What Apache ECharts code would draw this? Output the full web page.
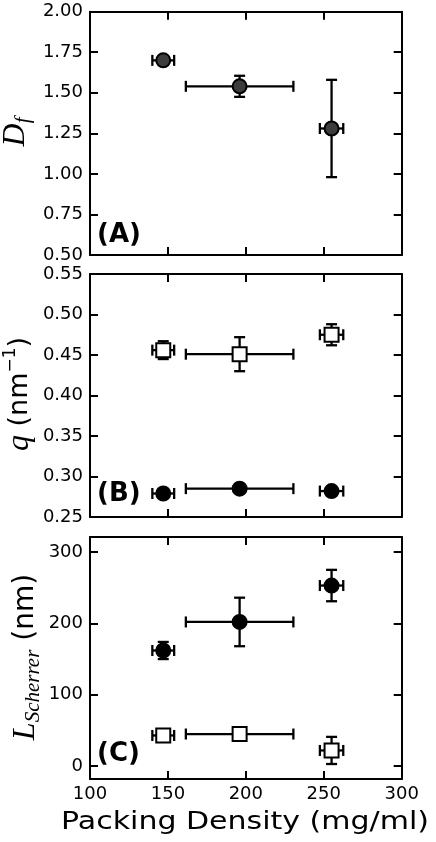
<!DOCTYPE html>
<html>
<head>
<meta charset="utf-8">
<script src="https://cdn.jsdelivr.net/npm/echarts@6/dist/echarts.min.js"></script>
<style>
  html, body { margin: 0; padding: 0; background: #fff; }
  #chart { width: 436px; height: 842px; }
</style>
</head>
<body>
<div id="chart"></div>
<script>
  // packing density (mg/ml), shared by all three panels
  var density = [147, 196, 255];
  var densityErr = [7, 34.5, 7.5];

  // (A) fractal dimension
  var fractalDim = [1.70, 1.54, 1.28];
  var fractalDimErr = [0.02, 0.065, 0.30];

  // (B) peak position q
  var qCircle = [0.279, 0.285, 0.282];
  var qCircleErr = [0, 0, 0];
  var qSquare = [0.456, 0.451, 0.475];
  var qSquareErr = [0.011, 0.021, 0.013];

  // (C) Scherrer length
  var lCircle = [162, 202, 253];
  var lCircleErr = [12, 34, 22];
  var lSquare = [43, 45, 22];
  var lSquareErr = [5, 3, 19];

  var xTicks = [100, 150, 200, 250, 300];
  var lTicks = [0, 100, 200, 300];

  var FONT = 'DejaVu Sans';
  var grids = [
    { left: 90, right: 34.3, top: 11.7, height: 243.3 },
    { left: 90, right: 34.3, top: 274, height: 243 },
    { left: 90, right: 34.3, top: 537, height: 242 }
  ];

  function xAxes(g) {
    var base = {
      gridIndex: g, type: 'value', min: 100, max: 300, interval: 50,
      axisLine: { show: true, onZero: false, lineStyle: { color: '#000', width: 2 } },
      axisTick: { show: true, inside: true, length: 8, lineStyle: { color: '#000', width: 2 } },
      splitLine: { show: false }
    };
    var bottom = Object.assign({}, base, {
      position: 'bottom',
      axisLabel: { show: g === 2, color: '#000', fontFamily: FONT, fontSize: 18, margin: 6,
        customValues: xTicks }
    });
    var top = Object.assign({}, base, { position: 'top', axisLabel: { show: false } });
    return [bottom, top];
  }

  function yAxes(g, opt) {
    var base = {
      gridIndex: g, type: 'value', min: opt.min, max: opt.max,
      axisLine: { show: true, onZero: false, lineStyle: { color: '#000', width: 2 } },
      axisTick: { show: true, inside: true, length: 8, lineStyle: { color: '#000', width: 2 } },
      splitLine: { show: false }
    };
    if (opt.interval) base.interval = opt.interval;
    if (opt.ticks) base.axisTick.customValues = opt.ticks;
    var left = Object.assign({}, base, {
      position: 'left',
      axisLabel: { show: true, color: '#000', fontFamily: FONT, fontSize: 18, margin: 7,
        customValues: opt.ticks, formatter: opt.fmt }
    });
    var right = Object.assign({}, base, { position: 'right', axisLabel: { show: false } });
    return [left, right];
  }

  function errRender(params, api) {
    var x = api.value(0), y = api.value(1), ex = api.value(2), ey = api.value(3);
    var cap = 5.5;
    var st = { stroke: '#000', lineWidth: 2.3 };
    var kids = [];
    if (ex > 0) {
      var l = api.coord([x - ex, y]), r = api.coord([x + ex, y]);
      kids.push({ type: 'line', shape: { x1: l[0], y1: l[1], x2: r[0], y2: r[1] }, style: st });
      kids.push({ type: 'line', shape: { x1: l[0], y1: l[1] - cap, x2: l[0], y2: l[1] + cap }, style: st });
      kids.push({ type: 'line', shape: { x1: r[0], y1: r[1] - cap, x2: r[0], y2: r[1] + cap }, style: st });
    }
    if (ey > 0) {
      var t = api.coord([x, y + ey]), b = api.coord([x, y - ey]);
      kids.push({ type: 'line', shape: { x1: t[0], y1: t[1], x2: b[0], y2: b[1] }, style: st });
      kids.push({ type: 'line', shape: { x1: t[0] - cap, y1: t[1], x2: t[0] + cap, y2: t[1] }, style: st });
      kids.push({ type: 'line', shape: { x1: b[0] - cap, y1: b[1], x2: b[0] + cap, y2: b[1] }, style: st });
    }
    return { type: 'group', children: kids };
  }

  function errSeries(g, vals, errs) {
    return {
      type: 'custom', xAxisIndex: g * 2, yAxisIndex: g * 2,
      renderItem: errRender, silent: true, z: 2,
      encode: { x: 0, y: 1 },
      data: density.map(function (d, i) { return [d, vals[i], densityErr[i], errs[i]]; })
    };
  }

  function markSeries(g, vals, symbol, fill, size) {
    return {
      type: 'scatter', xAxisIndex: g * 2, yAxisIndex: g * 2, z: 3,
      symbol: symbol, symbolSize: size,
      itemStyle: { color: fill, borderColor: '#000', borderWidth: 2, opacity: 1 },
      data: density.map(function (d, i) { return [d, vals[i]]; })
    };
  }

  var xAxisList = [].concat(xAxes(0), xAxes(1), xAxes(2));
  var yAxisList = [].concat(
    yAxes(0, { min: 0.5, max: 2.0, interval: 0.25, fmt: function (v) { return v.toFixed(2); } }),
    yAxes(1, { min: 0.25, max: 0.55, interval: 0.05, fmt: function (v) { return v.toFixed(2); } }),
    yAxes(2, { min: -18, max: 321, ticks: lTicks })
  );

  var serif = 'Liberation Serif';
  var option = {
    animation: false,
    backgroundColor: '#fff',
    grid: grids,
    xAxis: xAxisList,
    yAxis: yAxisList,
    series: [
      errSeries(0, fractalDim, fractalDimErr),
      markSeries(0, fractalDim, 'circle', '#3c3c3c', 14),
      errSeries(1, qSquare, qSquareErr),
      markSeries(1, qSquare, 'rect', '#fff', 14),
      errSeries(1, qCircle, qCircleErr),
      markSeries(1, qCircle, 'circle', '#000', 14),
      errSeries(2, lCircle, lCircleErr),
      markSeries(2, lCircle, 'circle', '#000', 14),
      errSeries(2, lSquare, lSquareErr),
      markSeries(2, lSquare, 'rect', '#fff', 14)
    ],
    graphic: [
      { type: 'text', left: 97, top: 222, z: 10,
        style: { text: '(A)', font: 'bold 26px DejaVu Sans', fill: '#000' } },
      { type: 'text', left: 97, top: 481, z: 10,
        style: { text: '(B)', font: 'bold 26px DejaVu Sans', fill: '#000' } },
      { type: 'text', left: 97, top: 741, z: 10,
        style: { text: '(C)', font: 'bold 26px DejaVu Sans', fill: '#000' } },
      { type: 'text', x: 245, y: 822, scaleX: 1.2, z: 10,
        style: { text: 'Packing Density (mg/ml)', font: '25px DejaVu Sans', fill: '#000',
          align: 'center', verticalAlign: 'middle' } },
      { type: 'text', x: 16, y: 132, rotation: Math.PI / 2, z: 10,
        style: { text: '{m|D}{s|f}', align: 'center', verticalAlign: 'middle',
          rich: {
            m: { fontFamily: serif, fontStyle: 'italic', fontSize: 32, lineHeight: 36, verticalAlign: 'middle', fill: '#000' },
            s: { fontFamily: serif, fontStyle: 'italic', fontSize: 21, lineHeight: 16, verticalAlign: 'bottom', fill: '#000' }
          } } },
      { type: 'text', x: 20, y: 394, rotation: Math.PI / 2, z: 10,
        style: { text: '{m|q}{n| (nm}{p|−1}{n|)}', align: 'center', verticalAlign: 'middle',
          rich: {
            m: { fontFamily: serif, fontStyle: 'italic', fontSize: 32, lineHeight: 36, verticalAlign: 'middle', fill: '#000' },
            n: { fontFamily: FONT, fontSize: 27, lineHeight: 36, verticalAlign: 'middle', fill: '#000' },
            p: { fontFamily: FONT, fontSize: 17, lineHeight: 16, verticalAlign: 'top', fill: '#000' }
          } } },
      { type: 'text', x: 26, y: 657, rotation: Math.PI / 2, z: 10,
        style: { text: '{m|L}{s|Scherrer}{n| (nm)}', align: 'center', verticalAlign: 'middle',
          rich: {
            m: { fontFamily: serif, fontStyle: 'italic', fontSize: 32, lineHeight: 36, verticalAlign: 'middle', fill: '#000' },
            s: { fontFamily: serif, fontStyle: 'italic', fontSize: 21, lineHeight: 14, verticalAlign: 'bottom', fill: '#000' },
            n: { fontFamily: FONT, fontSize: 28, lineHeight: 36, verticalAlign: 'middle', fill: '#000' }
          } } }
    ]
  };

  var chart = echarts.init(document.getElementById('chart'));
  chart.setOption(option);
  window.addEventListener('resize', function () { chart.resize(); });
</script>
</body>
</html>
